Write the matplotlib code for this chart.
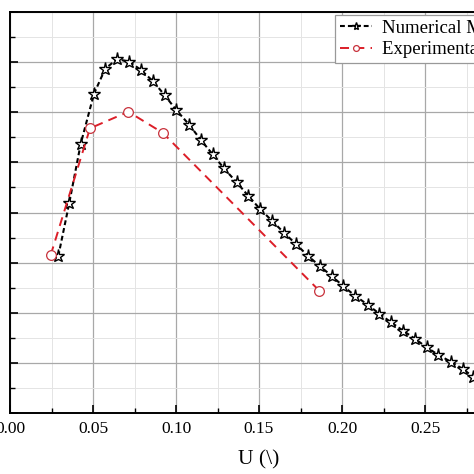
import matplotlib

matplotlib.use("Agg")
import matplotlib.pyplot as plt
from matplotlib.ticker import MultipleLocator

# Numerical model (stars)
num_u = [0.0291, 0.0357, 0.0426, 0.0506, 0.0574, 0.0645, 0.0717, 0.0787, 0.0861,
         0.0932, 0.1000, 0.1080, 0.1149, 0.1221, 0.1289, 0.1366, 0.1436, 0.1506,
         0.1580, 0.1652, 0.1723, 0.1793, 0.1867, 0.1939, 0.2008, 0.2078, 0.2155,
         0.2225, 0.2295, 0.2369, 0.2440, 0.2510, 0.2580, 0.2657, 0.2727, 0.2791]
num_y = [3.13, 4.19, 5.37, 6.37, 6.87, 7.06, 7.01, 6.85, 6.62,
         6.34, 6.05, 5.75, 5.45, 5.16, 4.88, 4.60, 4.33, 4.07,
         3.83, 3.59, 3.37, 3.14, 2.93, 2.73, 2.53, 2.34, 2.16,
         1.98, 1.81, 1.64, 1.48, 1.31, 1.16, 1.02, 0.88, 0.72]

# Experimental (circles)
exp_u = [0.0245, 0.0482, 0.0713, 0.0920, 0.1863]
exp_y = [3.15, 5.68, 6.01, 5.59, 2.44]

plt.rcParams["font.family"] = ["Liberation Serif", "DejaVu Serif"]
plt.rcParams["lines.scale_dashes"] = False

W = H = 474
fig = plt.figure(figsize=(W / 100, H / 100), dpi=100)
# axes runs past the right edge of the picture, like the cropped original
ax = fig.add_axes([10 / W, 61 / H, 498 / W, 401 / H])

ax.plot(num_u, num_y, color="black", linewidth=1.5, dashes=(3.5, 2.2),
        marker="*", markersize=9.5, markerfacecolor="white",
        markeredgecolor="black", markeredgewidth=1.0,
        label="Numerical Model", zorder=3)
ax.plot(exp_u, exp_y, color="#dc1e28", linewidth=1.4, dashes=(6.5, 4.5),
        marker="o", markersize=7, markerfacecolor="white",
        markeredgecolor="#c8323c", markeredgewidth=0.9,
        label="Experimental Data", zorder=4)

ax.set_xlim(0, 0.30)
ax.set_ylim(0, 8)
ax.xaxis.set_major_locator(MultipleLocator(0.05))
ax.xaxis.set_minor_locator(MultipleLocator(0.025))
ax.yaxis.set_major_locator(MultipleLocator(1))
ax.yaxis.set_minor_locator(MultipleLocator(0.5))
ax.xaxis.set_major_formatter(lambda v, p: f"{v:.2f}")

ax.grid(which="major", color="#a8a8a8", linewidth=0.9)
ax.grid(which="minor", color="#e4e4e4", linewidth=0.7)
ax.set_axisbelow(True)

ax.tick_params(which="major", direction="in", length=6, width=1.2,
               labelsize=12.5, pad=6)
ax.tick_params(axis="y", which="major", pad=9)
ax.tick_params(which="minor", direction="in", length=3.5, width=1.0)
for s in ax.spines.values():
    s.set_linewidth(1.4)

ax.set_xlabel("U (\\)", fontsize=15.5, labelpad=9)

leg = ax.legend(loc="upper left", bbox_to_anchor=(335 / W, 1 - 15 / H),
                bbox_transform=fig.transFigure, borderaxespad=0,
                fontsize=13.5, markerscale=0.6, handlelength=1.7,
                handletextpad=0.55, labelspacing=0.22, borderpad=0.25,
                fancybox=False, framealpha=1, edgecolor="#999999")
leg.get_frame().set_linewidth(0.9)

fig.savefig("out.png", dpi=100)
